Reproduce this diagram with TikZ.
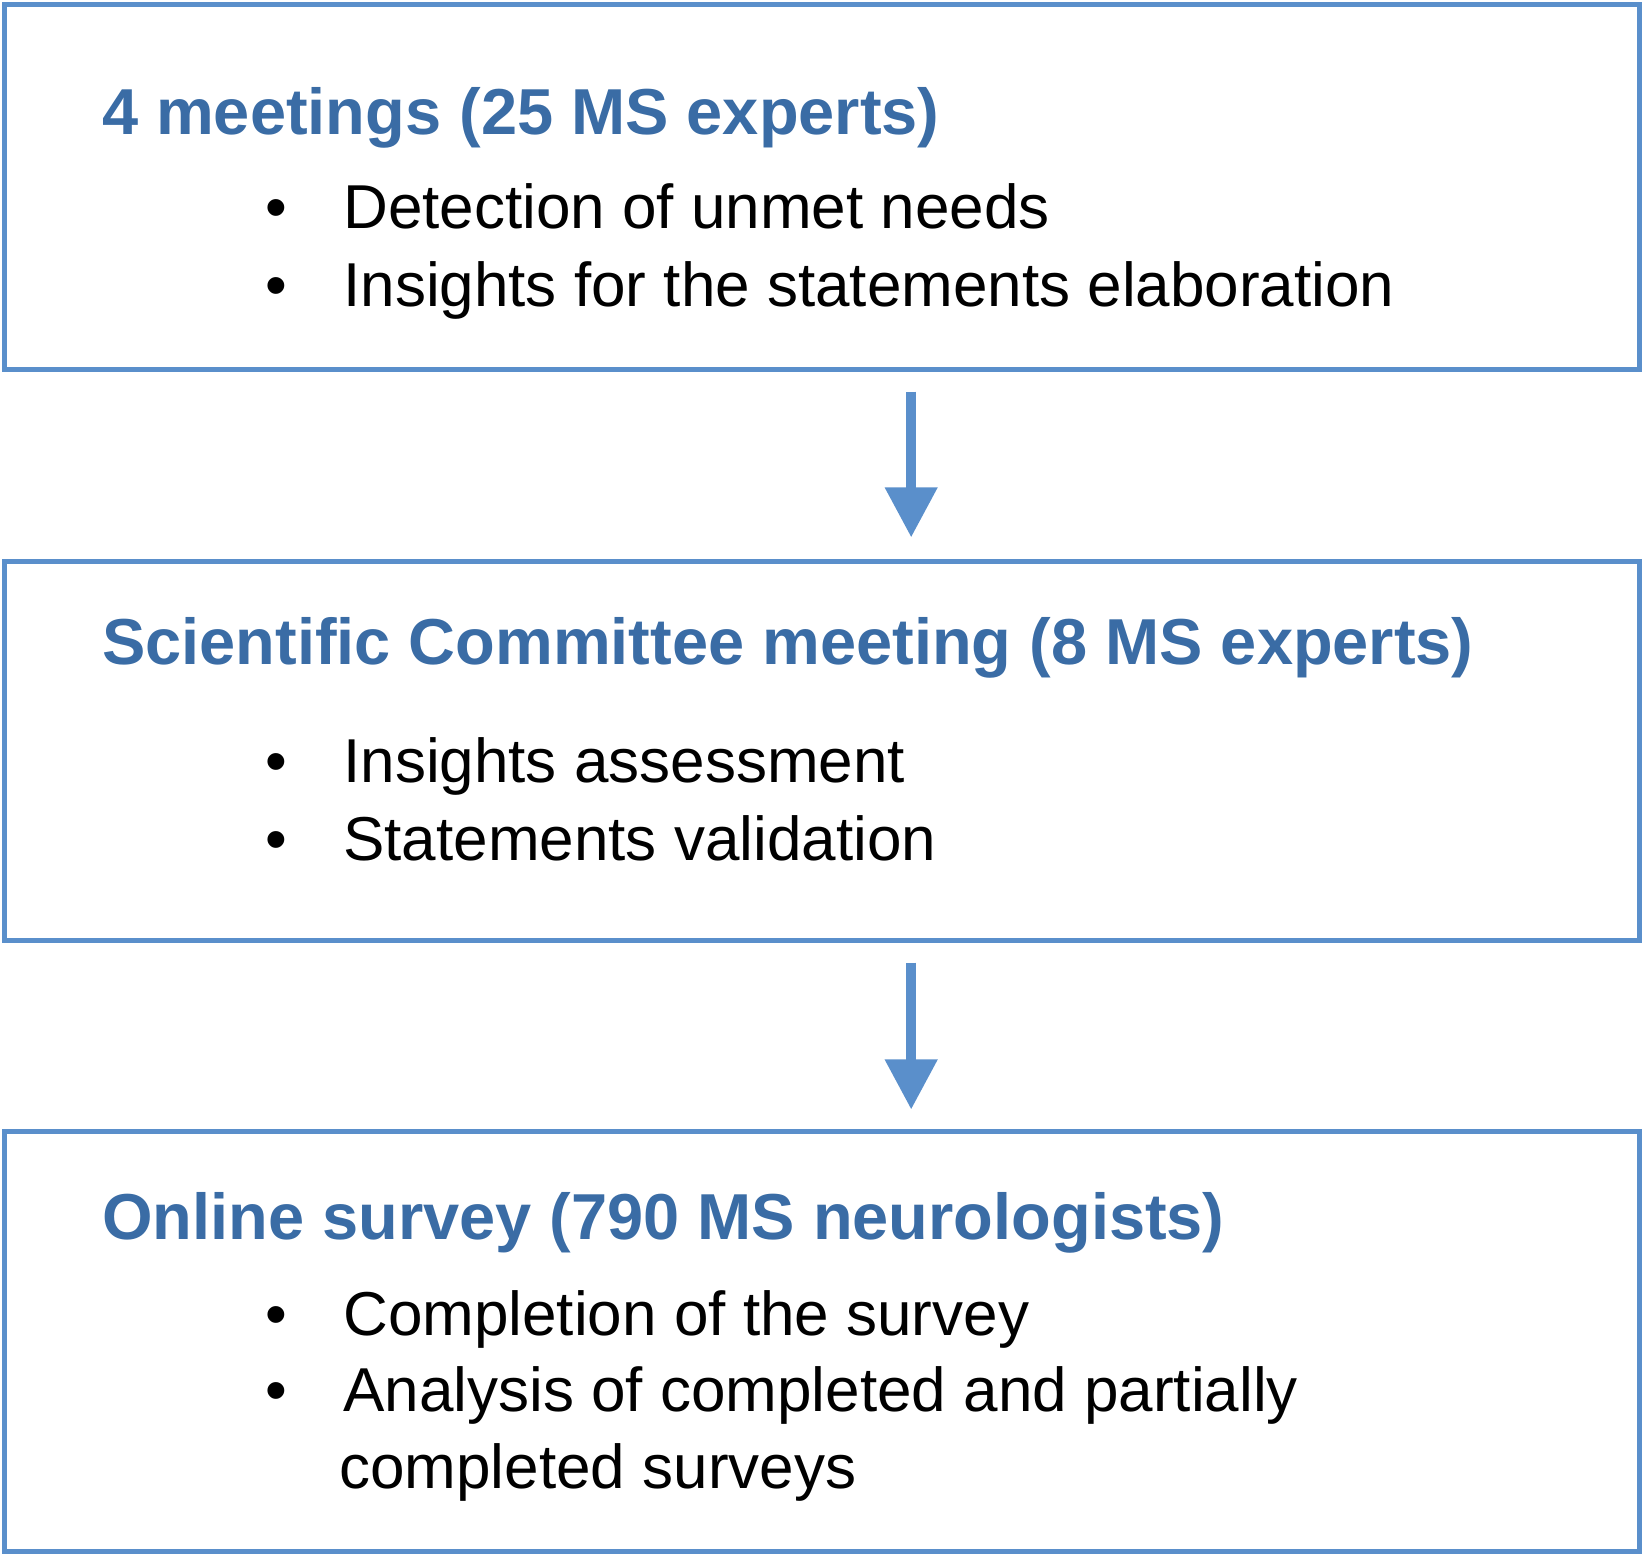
\documentclass[tikz,border=0pt]{standalone}
\usepackage{fontspec}
\setmainfont{Liberation Sans}
\definecolor{bord}{HTML}{5A8FCB}
\definecolor{ttl}{HTML}{3A6CA5}
\begin{document}
\begin{tikzpicture}[x=0.025cm,y=-0.025cm,
  box/.style={draw=bord,line width=3.6pt},
  ttltext/.style={anchor=base west,inner sep=0,text=ttl,font=\fontsize{44}{52}\selectfont\bfseries},
  bul/.style={anchor=base west,inner sep=0,font=\fontsize{42}{50}\selectfont},
  arr/.style={draw=bord,line width=7pt,-{Triangle[width=34pt,length=34pt]},shorten >=0pt}]
\useasboundingbox (0,0) rectangle (1568,1482);
\usetikzlibrary{arrows.meta}
\draw[box] (4,4) rectangle (1562,352);
\draw[box] (4,535) rectangle (1562,896);
\draw[box] (4,1078) rectangle (1562,1478);
\node[ttltext] (t1) at (97,128) {4 meetings (25 MS experts)};
\node[bul] (b1a) at (253,218) {•\hspace{0.9em}Detection of unmet needs};
\node[bul] (b1b) at (253,292) {•\hspace{0.9em}Insights for the statements elaboration};
\node[ttltext] (t2) at (97,633) {Scientific Committee meeting (8 MS experts)};
\node[bul] (b2a) at (253,745) {•\hspace{0.9em}Insights assessment};
\node[bul] (b2b) at (253,820) {•\hspace{0.9em}Statements validation};
\node[ttltext] (t3) at (97,1181) {Online survey (790 MS neurologists)};
\node[bul] (b3a) at (253,1272) {•\hspace{0.9em}Completion of the survey};
\node[bul] (b3b) at (253,1345) {•\hspace{0.9em}Analysis of completed and partially};
\node[bul] (b3c) at (323,1418) {completed surveys};
\coordinate (a1s) at (868,373); \coordinate (a1e) at (868,512);
\coordinate (a2s) at (868,917); \coordinate (a2e) at (868,1057);
\draw[arr] (a1s) -- (a1e);
\draw[arr] (a2s) -- (a2e);
\end{tikzpicture}
\end{document}
